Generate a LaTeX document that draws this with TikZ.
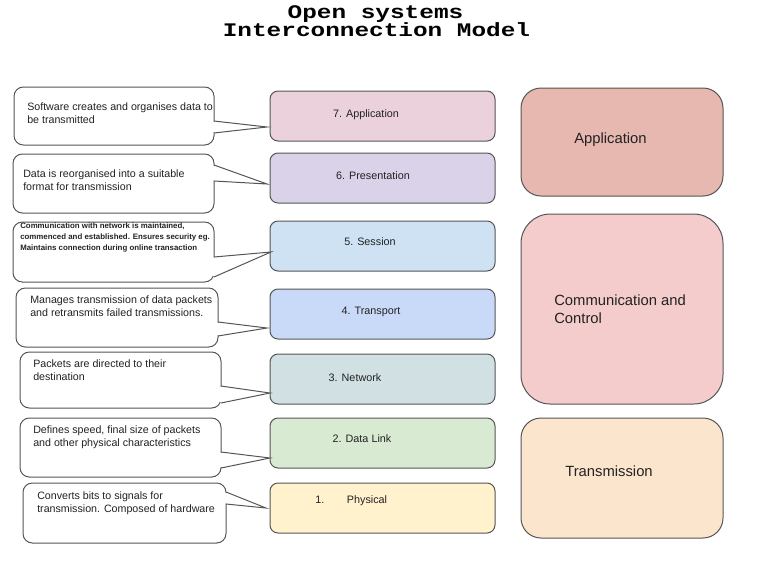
\documentclass[tikz,border=0pt]{standalone}
\usepackage{fontspec}
\setmainfont{Liberation Sans}
\newfontfamily\titlefont[FakeStretch=1.27]{Liberation Mono}
\definecolor{edge}{HTML}{555555}
\definecolor{txt}{HTML}{222222}
\definecolor{cA}{HTML}{EAD1DC}
\definecolor{cB}{HTML}{D9D2E9}
\definecolor{cC}{HTML}{CFE2F3}
\definecolor{cD}{HTML}{C9DAF8}
\definecolor{cE}{HTML}{D0E0E3}
\definecolor{cF}{HTML}{D9EAD3}
\definecolor{cG}{HTML}{FFF2CC}
\definecolor{gA}{HTML}{E6B8AF}
\definecolor{gB}{HTML}{F4CCCC}
\definecolor{gC}{HTML}{FCE5CD}
% box x1 y1 x2 y2, pointer base b1 b2 on right edge, tip (tx,ty)
\newcommand{\mycallout}[8]{%
  \draw[calloutline, rounded corners=7pt] (#1,#2) rectangle (#3,#4);
  \fill[white] (#3-1.2,#5+0.6) -- (#7,#8) -- (#3-1.2,#6-0.6) -- cycle;
  \draw[pointerline] (#3,#5) -- (#7,#8) -- (#3,#6);}
\begin{document}
\begin{tikzpicture}[x=0.75pt,y=-0.75pt,
  layerbox/.style={draw=edge, line width=0.75pt, rounded corners=6pt, minimum width=168.75pt, minimum height=37.5pt, inner sep=0pt},
  groupbox/.style={draw=edge, line width=0.75pt, minimum width=151.5pt, inner sep=0pt},
  calloutline/.style={draw=edge, line width=0.75pt, fill=white},
  pointerline/.style={draw=edge, line width=0.75pt, line join=miter},
  ctext/.style={font=\fontsize{8}{9.75}\selectfont, align=left, anchor=north west, inner sep=0pt, text=txt},
  ltext/.style={font=\fontsize{8.1}{10}\selectfont, inner sep=0pt, text=txt, anchor=base},
  gtext/.style={font=\fontsize{11.1}{13.5}\selectfont, inner sep=0pt, text=txt, anchor=base west},
  ttext/.style={font=\titlefont\bfseries\fontsize{14.4}{17}\selectfont, anchor=base, inner sep=0pt}]
\useasboundingbox (0,0) rectangle (768,576);

% title
\node[ttext] (t1) at (375.5,18.5) {Open systems};
\node[ttext] (t2) at (376.5,36.5) {Interconnection Model};

% layer boxes
\node[layerbox, fill=cA] (L7) at (382.5,116) {};
\node[layerbox, fill=cB] (L6) at (382.5,178) {};
\node[layerbox, fill=cC] (L5) at (382.5,246) {};
\node[layerbox, fill=cD] (L4) at (382.5,314) {};
\node[layerbox, fill=cE] (L3) at (382.5,379) {};
\node[layerbox, fill=cF] (L2) at (382.5,443) {};
\node[layerbox, fill=cG] (L1) at (382.5,508) {};

\node[ltext] (n7) at (366,117) {7. Application};
\node[ltext] (n6) at (373,179) {6. Presentation};
\node[ltext] (n5) at (370,245) {5. Session};
\node[ltext] (n4) at (371,314) {4. Transport};
\node[ltext] (n3) at (355,381) {3. Network};
\node[ltext] (n2) at (362,442) {2. Data Link};
\node[ltext, anchor=base west] (n1) at (315,503) {1.\hspace{17pt}Physical};

% group boxes
\node[groupbox, fill=gA, rounded corners=15pt, minimum height=81pt] (GA) at (622,142) {};
\node[groupbox, fill=gB, rounded corners=22pt, minimum height=142.5pt] (GB) at (622,309) {};
\node[groupbox, fill=gC, rounded corners=15pt, minimum height=90pt] (GC) at (622,478) {};
\node[gtext] (ga) at (574,143) {Application};
\node[gtext] (gb1) at (554,305) {Communication and};
\node[gtext] (gb2) at (554,323) {Control};
\node[gtext] (gc) at (565,476) {Transmission};

% callouts
\mycallout{14}{87}{214}{145}{121}{133}{267}{127}
\mycallout{13}{154}{214}{213}{165}{181}{267}{184}
\mycallout{13}{222}{214}{282}{257}{277}{271}{252}
\mycallout{16}{288}{218}{347}{322}{336}{267}{328}
\mycallout{20}{352}{221}{408}{386}{403}{270}{393}
\mycallout{20}{418}{221}{477}{452}{468}{270}{458}
\mycallout{23}{483}{226}{543}{492}{504}{266}{508}

\node[ctext] (c7) at (27,102) {Software creates and organises data to\\be transmitted};
\node[ctext] (c6) at (23,169) {Data is reorganised into a suitable\\format for transmission};
\node[ctext, font=\bfseries\fontsize{5.9}{7.9}\selectfont] (c5) at (20,223) {Communication with network is maintained,\\commenced and established. Ensures security eg.\\Maintains connection during online transaction};
\node[ctext] (c4) at (30,295) {Manages transmission of data packets\\and retransmits failed transmissions.};
\node[ctext] (c3) at (33,359) {Packets are directed to their\\destination};
\node[ctext] (c2) at (33,425) {Defines speed, final size of packets\\and other physical characteristics};
\node[ctext] (c1) at (37,491) {Converts bits to signals for\\transmission. Composed of hardware};
\end{tikzpicture}
\end{document}
